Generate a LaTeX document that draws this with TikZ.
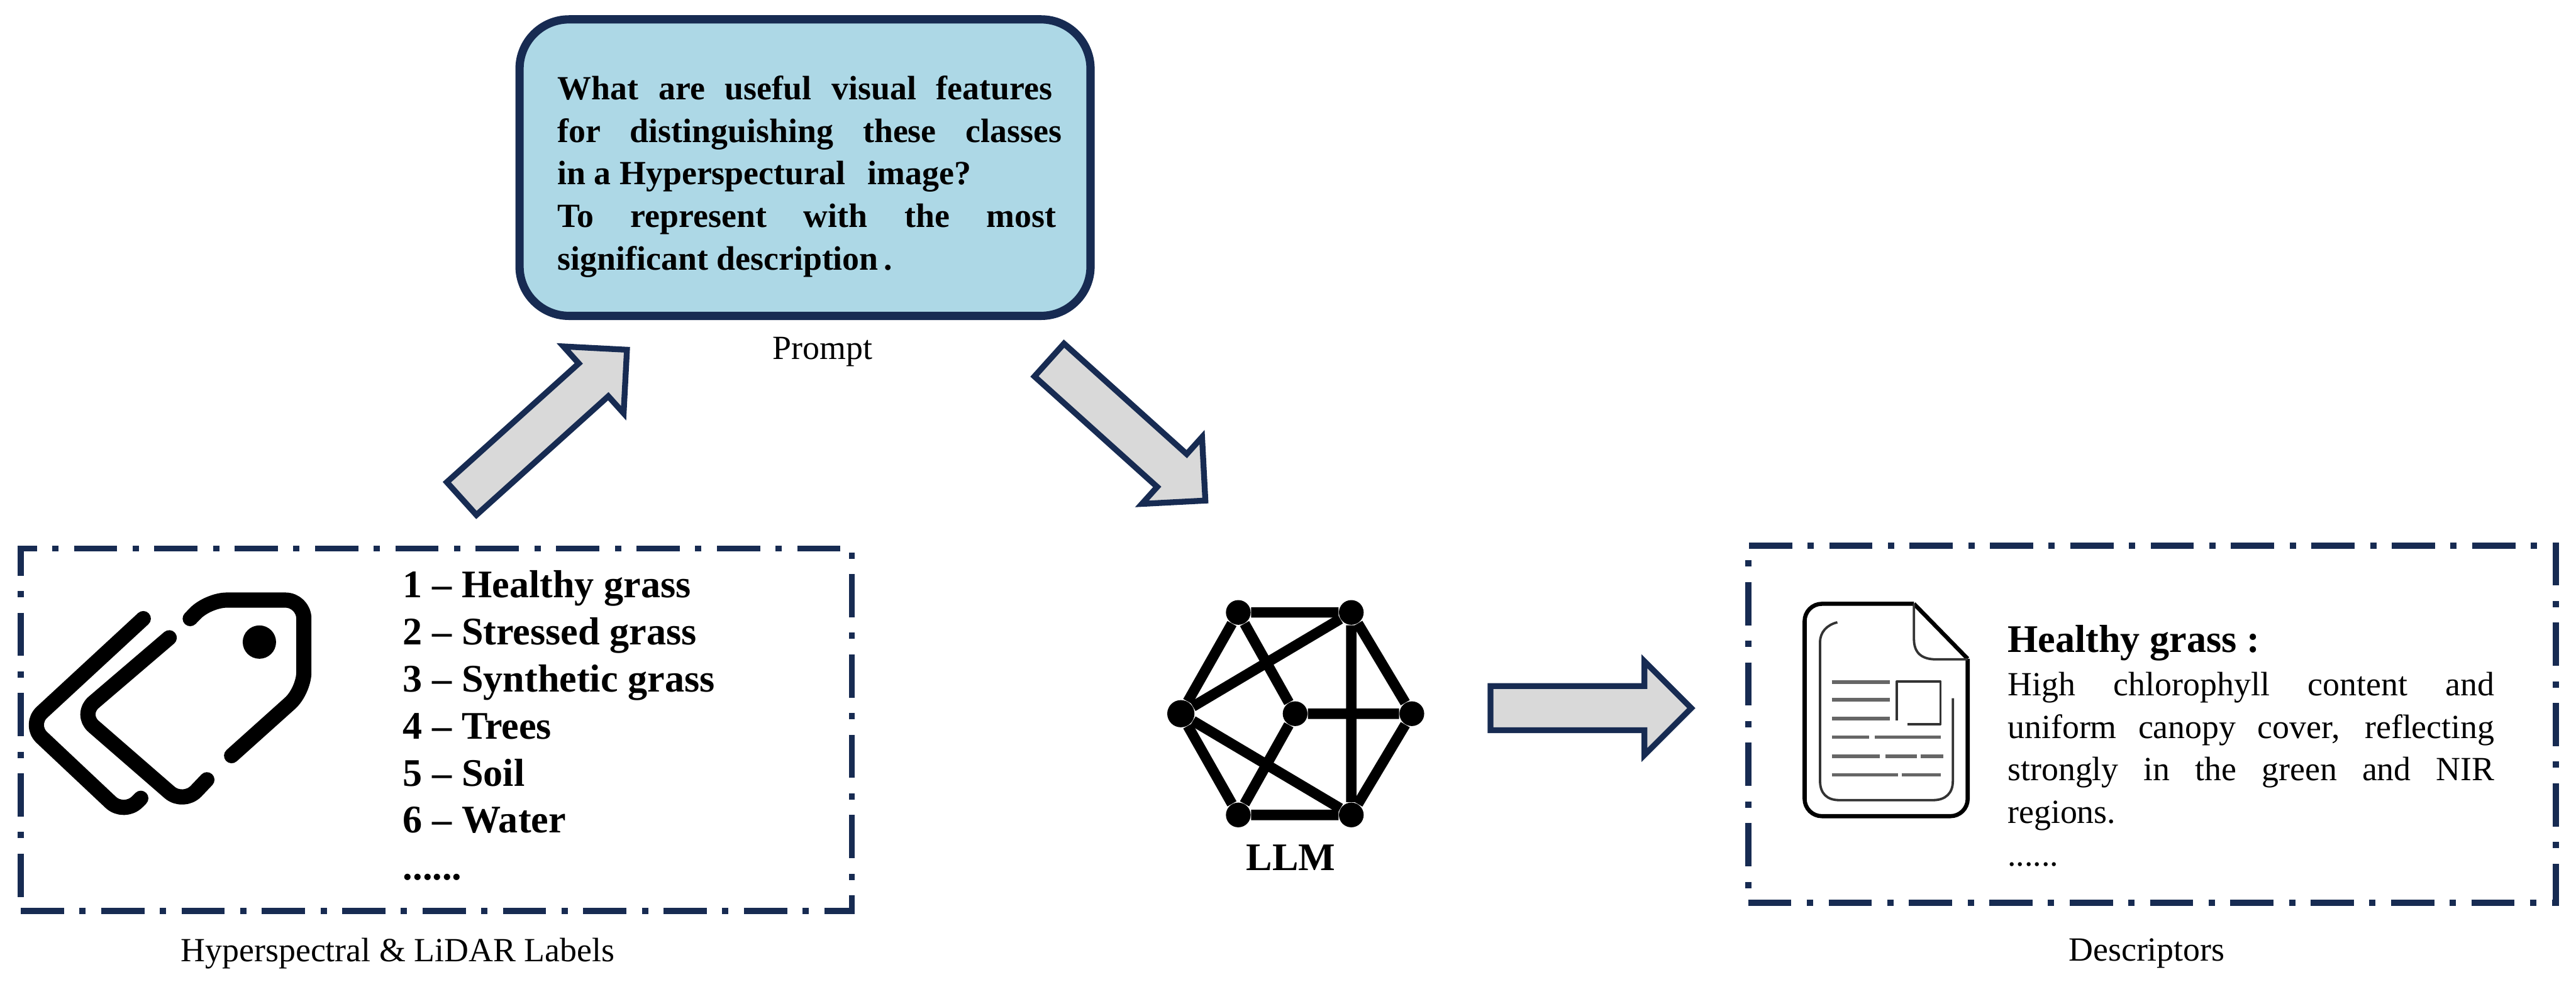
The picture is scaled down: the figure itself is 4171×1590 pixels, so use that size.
\documentclass[tikz,border=0pt]{standalone}
\usepackage{fontspec}
\setmainfont{Liberation Serif}
\usetikzlibrary{shapes.arrows}
\definecolor{navyline}{HTML}{172B52}
\definecolor{promptblue}{HTML}{ADD8E6}
\definecolor{arrowgrey}{HTML}{D9D9D9}
\definecolor{docgrey}{HTML}{666666}
\newcommand{\smallface}{\fontsize{15.6}{19.6}\selectfont}
\newcommand{\bigface}{\fontsize{18}{21.7}\selectfont}
\tikzset{
	dashbox/.style={draw=navyline,line width=2.8pt,dash pattern=on 19.9pt off 7.1pt on 2.9pt off 7.1pt,inner sep=0pt},
	promptbox/.style={draw=navyline,fill=promptblue,line width=3.8pt,rounded corners=.8cm,inner sep=0pt,minimum width=9.24cm,minimum height=4.8cm},
	blockarrow/.style={shape=single arrow,draw=navyline,fill=arrowgrey,line width=2.7pt,inner xsep=0pt,inner ysep=.31cm,single arrow tip angle=90,single arrow head extend=.37cm,minimum height=3.4cm},
	netdot/.style={circle,fill=black,inner sep=0pt,minimum size=.4cm},
	netedge/.style={line width=4.8pt,black},
	tagline/.style={line width=7pt,line cap=round,line join=round,rounded corners=.3cm,black},
	docline/.style={line width=1.7pt,docgrey},
	docedge/.style={line width=1.9pt,line join=round,black},
	docthin/.style={line width=1.1pt,line join=round,black!80},
	plaintext/.style={inner sep=0pt,font=\smallface},
	boldtext/.style={inner sep=0pt,font=\bigface\bfseries}
}
\begin{document}
\begin{tikzpicture}[x=.01cm,y=-.01cm]
	\useasboundingbox (0,0) rectangle (4171,1590);

	\node[promptbox] (prompt) at (1303.5,271.5) {}; % la boite du haut
	\node[plaintext,font=\smallface\bfseries,anchor=north west,text width=8.16cm,align=justify] (prompttext) at (902,122) {What are useful visual features\hspace*{.15cm}\linebreak for distinguishing these classes\linebreak in a Hyperspectural\hspace{.4em} image?\\To represent with the most\hspace*{.09cm}\linebreak significant description\,.};
	\node[plaintext,anchor=base] (promptcap) at (1332,582) {Prompt};

	\node[blockarrow,rotate=42,minimum height=3.6cm] (arrowup) at (868,699) {};
	\node[blockarrow,rotate=-42] (arrowdown) at (1812,685) {};
	\node[blockarrow,minimum height=3.25cm,single arrow head extend=.4cm] (arrowright) at (2558,1147) {};

	\node[dashbox,minimum width=13.45cm,minimum height=5.87cm] (labelbox) at (706.5,1182) {}; % labels
	\node[boldtext,anchor=north west,align=left] (labellist) at (652,923) {1 -- Healthy grass\\2 -- Stressed grass\\3 -- Synthetic grass\\4 -- Trees\\5 -- Soil\\6 -- Water\\......};
	\node[plaintext,anchor=base] (labelcap) at (644,1557) {Hyperspectral \& LiDAR Labels};

	\draw[tagline] (308,1002)--(337,972)--(492,972)--(492,1119)--(375,1224); % etiquette avant
	\draw[tagline] (274,1033)--(129,1157)--(297,1303)--(335,1263);
	\draw[tagline] (232,1002)--(46,1174)--(201,1320)--(228,1293); % etiquette arriere
	\fill[black] (420,1040) circle (27);

	\node[netdot] (ntl) at (2005,992) {};
	\node[netdot] (ntr) at (2188,992) {};
	\node[netdot,minimum size=.44cm] (nl) at (1912,1156) {};
	\node[netdot] (nc) at (2097,1156) {};
	\node[netdot] (nr) at (2286,1156) {};
	\node[netdot] (nbl) at (2005,1320) {};
	\node[netdot] (nbr) at (2188,1320) {};
	\draw[netedge] (ntl)--(ntr)--(nr)--(nbr)--(nbl)--(nl)--(ntl);
	\draw[netedge] (nl)--(ntr) (nl)--(nbr) (ntl)--(nc) (nbl)--(nc) (nc)--(nr) (ntr)--(nbr);
	\node[boldtext,anchor=base] (llm) at (2090,1410) {LLM};

	\node[dashbox,minimum width=13.07cm,minimum height=5.78cm] (descbox) at (3484.5,1173) {}; % descripteurs
	\node[boldtext,anchor=base west] (desctitle) at (3250,1056) {Healthy grass :};
	\node[plaintext,anchor=north west,text width=7.88cm,align=justify] (descbody) at (3250,1088) {High chlorophyll content and\linebreak uniform canopy cover, reflecting\linebreak strongly in the green and NIR\linebreak regions.\\......};
	\node[plaintext,anchor=base] (desccap) at (3476,1556) {Descriptors};

	\draw[docedge,rounded corners=.28cm] (3099,978)--(2922,978)--(2922,1322)--(3186,1322)--(3186,1067); % la feuille
	\draw[docedge] (3099,978)--(3186,1067);
	\draw[docthin] (3099,978)--(3099,1035) .. controls (3099,1058) and (3112,1068) .. (3135,1068)--(3186,1068);
	\draw[docthin] (2975,1008) .. controls (2958,1012) and (2947,1024) .. (2947,1040)--(2947,1265) .. controls (2947,1285) and (2958,1296) .. (2978,1296)--(3130,1296) .. controls (3150,1296) and (3162,1285) .. (3162,1265)--(3162,1131);
	\draw[docthin] (3071,1167)--(3071,1104)--(3142,1104)--(3142,1173)--(3088,1173);
	\draw[docline] (2966,1105)--(3060,1105);
	\draw[docline] (2966,1133)--(3060,1133);
	\draw[docline] (2966,1164)--(3060,1164);
	\draw[docline] (2966,1194)--(3026,1194) (3036,1194)--(3142,1194);
	\draw[docline] (2966,1225)--(3044,1225) (3053,1225)--(3104,1225) (3110,1225)--(3147,1225);
	\draw[docline] (2966,1255)--(3073,1255) (3079,1255)--(3142,1255);
\end{tikzpicture}
\end{document}
